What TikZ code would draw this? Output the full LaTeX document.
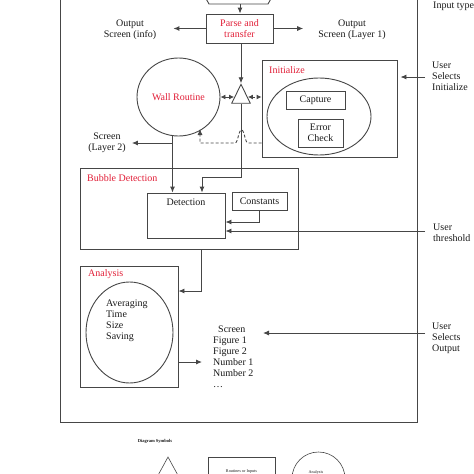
\documentclass[tikz,border=0pt]{standalone}
\usepackage{fontspec}
\setmainfont{Liberation Serif}
\usetikzlibrary{arrows.meta,shapes.geometric}
\definecolor{lred}{RGB}{225,30,55}
\definecolor{lgray}{RGB}{70,70,70}
\begin{document}
\begin{tikzpicture}[x=1pt,y=-1pt,
  ln/.style={draw=lgray, line width=0.9pt},
  arr/.style={ln, -{Latex[length=6pt,width=5pt]}},
  darr/.style={ln, {Latex[length=5pt,width=5pt]}-{Latex[length=5pt,width=5pt]}},
  dsh/.style={dash pattern=on 3pt off 2pt},
  box/.style={ln, rectangle, inner sep=0pt},
  ttl/.style={text=lred, anchor=west, inner sep=0pt},
  txt/.style={align=center, inner sep=0pt},
  lft/.style={align=left, inner sep=0pt},
  tiny/.style={font=\fontsize{4.2}{5}\selectfont},
  every node/.style={font=\fontsize{10}{11}\selectfont, text=black!90}]
\useasboundingbox (0,0) rectangle (474,474);
\coordinate (h143) at (0,143);
% main frame
\node[box, minimum width=357pt, minimum height=427pt] (main) at (238.5,208.5) {};
% input trapezoid
\draw[ln] (200,-12) -- (209,4) -- (268,4) -- (277,-12);
\coordinate (inp) at (240,4);
\node[anchor=west, inner sep=0] (intype) at (433,6) {Input type};
% parse
\node[box, minimum width=67pt, minimum height=29pt, text=lred, align=center] (parse) at (239.5,28.5) {Parse and\\transfer};
\node[txt] (oinfo) at (130,30) {Output\\Screen (info)};
\node[txt] (ol1) at (352,30) {Output\\Screen (Layer 1)};
\draw[arr] (inp) -- (inp |- parse.north);
\draw[arr] (parse.west) -- ([xshift=17pt]oinfo.east |- parse.west);
\draw[arr] (parse.east) -- ([xshift=-15pt]ol1.west |- parse.east);
% wall routine and triangle
\node[ln, ellipse, minimum width=83pt, minimum height=78pt, text=lred, inner sep=0] (wall) at (178.5,97) {Wall Routine};
\node[ln, isosceles triangle, shape border rotate=90, isosceles triangle apex angle=52, minimum height=19pt, inner sep=0] (tri) at (241,97.5) {};
\draw[arr] (parse.south -| tri.apex) -- (tri.apex);
\draw[darr] (wall.east) -- (wall.east -| tri.west);
% initialize
\node[box, minimum width=135pt, minimum height=97pt] (init) at (329.5,108.5) {};
\node[ttl] (initt) at (269,70) {Initialize};
\node[ln, ellipse, minimum width=104pt, minimum height=77pt, inner sep=0] (iell) at (319,116.5) {};
\node[box, minimum width=59pt, minimum height=18pt] (cap) at (315.5,100) {Capture};
\node[box, minimum width=45pt, minimum height=28pt, align=center] (err) at (320.5,133) {Error\\Check};
\draw[darr, dsh] (tri.east |- wall.east) -- (wall.east -| init.west);
\coordinate (wb) at (200,129);
\draw[arr, dsh] (init.west |- h143) -- (248,143) .. controls (245,143) and (244.5,130) .. (241.5,130) .. controls (238.5,130) and (238,143) .. (235,143) -- (wb |- h143) -- (wb);
\node[anchor=west, lft] (usi) at (432,76) {User\\Selects\\Initialize};
\coordinate (uil) at (425,77);
\draw[arr] (uil) -- ([xshift=3pt]init.east |- uil);
% screen layer 2
\node[txt] (scr2) at (107,143) {Screen\\(Layer 2)};
\draw[arr] ([xshift=-6pt]wall.south |- h143) -- ([xshift=6pt]scr2.east |- h143);
% bubble detection
\node[box, minimum width=218pt, minimum height=81pt] (bub) at (189,208.5) {};
\node[ttl] (bubt) at (87,178) {Bubble Detection};
\node[box, minimum width=78pt, minimum height=45pt] (det) at (186,215.5) {};
\node[inner sep=0] (dett) at (186,202) {Detection};
\node[box, minimum width=55pt, minimum height=18pt] (const) at (259.5,201) {Constants};
\draw[arr] ([xshift=-6pt]wall.south) -- ([xshift=-6pt]wall.south |- det.north);
\coordinate (j1) at (202,177);
\draw[arr] (tri.south) |- (j1) -- (j1 |- det.north);
\draw[arr] (const.south) |- ([yshift=-6.5pt]det.east);
\node[anchor=west, lft] (ut) at (433,233) {User\\threshold};
\coordinate (utl) at (425,231);
\draw[arr] (utl) -- (utl -| det.east);
% analysis
\node[box, minimum width=98pt, minimum height=121pt] (ana) at (129,326.5) {};
\node[ttl] (anat) at (88,274) {Analysis};
\node[ln, ellipse, minimum width=87pt, minimum height=101pt, inner sep=0] (aell) at (129.5,332.5) {};
\node[anchor=north west, lft] (alist) at (106,300) {Averaging\\Time\\Size\\Saving};
\draw[arr] ([xshift=12pt]bub.south) |- ([yshift=35.5pt]ana.east);
% output list
\node[anchor=north west, lft] (out) at (213,326) {\hspace*{5pt}Screen\\Figure 1\\Figure 2\\Number 1\\Number 2\\\ldots};
\coordinate (oa) at ([xshift=-11pt]out.west);
\draw[arr] ([yshift=-35.5pt]ana.east) -- ([yshift=-35.5pt]ana.east -| oa);
\node[anchor=west, lft] (uso) at (432,338.5) {User\\Selects\\Output};
\coordinate (uol) at (425,333);
\coordinate (uoe) at (263,333);
\draw[arr] (uol) -- (uoe);
% diagram symbols
\node[font=\bfseries\fontsize{4.5}{5}\selectfont] (dsym) at (155,441) {Diagram Symbols};
\draw[ln, line width=0.6pt] (150,490) -- (168,457) -- (186,490);
\draw[ln, line width=0.6pt] (208,485) rectangle (275,457);
\node[tiny] (rtxt) at (241.5,471.5) {Routines or Inputs};
\draw[ln, line width=0.6pt] (318.5,478.5) circle (26.5);
\node[tiny] (atxt) at (316,472) {Analysis};
\end{tikzpicture}
\end{document}
